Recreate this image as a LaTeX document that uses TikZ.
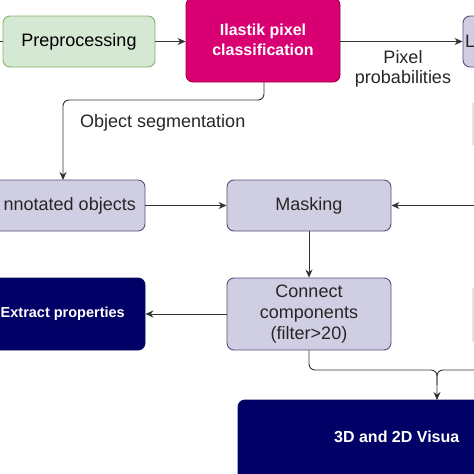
\documentclass[tikz,border=0pt]{standalone}
\usepackage{fontspec}
\setmainfont{Liberation Sans}
\usetikzlibrary{arrows.meta}
\definecolor{grfill}{HTML}{D5E8D4}
\definecolor{grline}{HTML}{82B366}
\definecolor{mgfill}{HTML}{D80073}
\definecolor{mgline}{HTML}{A50040}
\definecolor{lvfill}{HTML}{D0CEE2}
\definecolor{lvline}{HTML}{56517E}
\definecolor{nvfill}{HTML}{000066}
\definecolor{nvline}{HTML}{001060}
\definecolor{faint}{HTML}{E4E4EA}
\tikzset{
  boxbase/.style={rounded corners=7pt, line width=0.9pt, inner sep=0pt, align=center,
    font=\fontsize{18}{21}\selectfont},
  greenbox/.style={boxbase, fill=grfill, draw=grline},
  magbox/.style={boxbase, fill=mgfill, draw=mgline, text=white, font=\bfseries\fontsize{16}{20}\selectfont},
  lavbox/.style={boxbase, fill=lvfill, draw=lvline, text=black!85},
  navbox/.style={boxbase, fill=nvfill, draw=nvline, text=white, font=\bfseries\fontsize{16}{20}\selectfont},
  conn/.style={line width=0.9pt, draw=black!80, -{Stealth[length=8pt,width=7pt]}},
  plain/.style={line width=0.9pt, draw=black!80},
  lbl/.style={font=\fontsize{18}{20}\selectfont, text=black!85, align=center, inner sep=0pt}
}
\begin{document}
\begin{tikzpicture}[x=1pt,y=-1pt]
\useasboundingbox (0,0) rectangle (474,474);
\clip (0,0) rectangle (474,474);
\fill[white] (0,0) rectangle (474,474);

% nodes
\node[greenbox, minimum width=152pt, minimum height=51pt] (pre) at (79,41.5) {Preprocessing};
\node[magbox, minimum width=154pt, minimum height=84pt] (ila) at (263,40) {Ilastik pixel\\classification};
\node[lavbox, minimum width=154pt, minimum height=51pt] (lab) at (540,41.5) {};
\node[lbl, anchor=west] (labt) at (465,41.5) {L};

\node[lavbox, minimum width=160pt, minimum height=51pt] (ann) at (65,205.5) {};
\node[lbl, anchor=east] (annt) at (136,205.5) {nnotated objects};
\node[lavbox, minimum width=164pt, minimum height=51pt] (mask) at (309,205.5) {Masking};

\node[lavbox, minimum width=164pt, minimum height=72pt] (conn) at (309,314) {Connect\\components\\(filter>20)};
\node[navbox, minimum width=160pt, minimum height=72pt] (ext) at (65,314) {};
\node[anchor=west, text=white, font=\bfseries\fontsize{14.5}{18}\selectfont, inner sep=0pt] (extt) at (0.5,314) {Extract properties};

\node[navbox, minimum width=300pt, minimum height=100pt] (vis) at (388,450) {};
\node[anchor=west, text=white, font=\bfseries\fontsize{16}{20}\selectfont, inner sep=0pt] (vist) at (334,437) {3D and 2D Visua};

% faint edges at right
\fill[faint] (471.5,103) rectangle (474,145);
\fill[faint] (471.5,288) rectangle (474,342);

% coordinates
\coordinate (inL) at (0,41.5);
\coordinate (inR) at (474,205.5);
\coordinate (inR2) at (474,370);
\coordinate (j1) at (264,100);
\coordinate (j2) at (63,100);
\coordinate (vtop) at (437,400);

% connectors
\draw[plain] (inL) -- (pre.west);
\draw[conn] (pre.east) -- (ila.west |- pre.east);
\draw[conn] (ila.east |- lab.west) -- (lab.west);
\node[lbl] (pp) at (403,69) {Pixel\\probabilities};

\draw[conn, rounded corners=6pt] (264,82) -- (j1) -- (j2) -- (63,180);
\node[lbl, anchor=west] (os) at (80,123) {Object segmentation};

\draw[conn] (ann.east) -- (mask.west);
\draw[conn] (inR) -- (mask.east);
\draw[conn] (mask.south) -- (conn.north);
\draw[conn] (conn.west) -- (ext.east);
\draw[conn, rounded corners=6pt] (conn.south) -- (309,370) -- (437,370) -- (vtop);
\draw[plain, rounded corners=6pt] (inR2) -- (437,370) -- (437,385);
\end{tikzpicture}
\end{document}
